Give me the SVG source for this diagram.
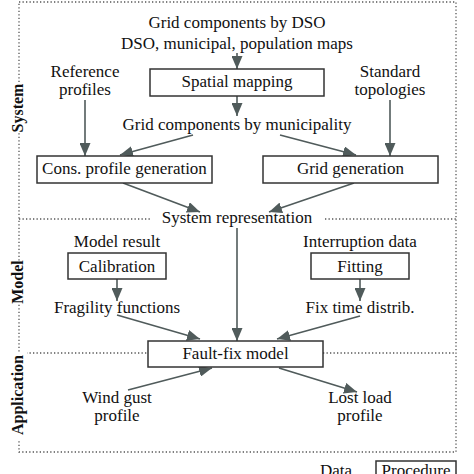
<svg xmlns="http://www.w3.org/2000/svg" width="474" height="474" viewBox="0 0 474 474">
<style>
text{font-family:"Liberation Serif","Times New Roman",serif;font-size:17px;fill:#111;text-anchor:middle}
.side{font-weight:bold;font-size:16px}
.box{fill:#fff;stroke:#333;stroke-width:1.5}
.dot{fill:none;stroke:#555;stroke-width:1.3;stroke-dasharray:1.3 2.2}
.conn line{stroke:#505b5b;stroke-width:1.6;marker-end:url(#ah)}
</style>
<defs>
<marker id="ah" viewBox="0 0 13 11" refX="13" refY="5.5" markerWidth="13" markerHeight="11" markerUnits="userSpaceOnUse" orient="auto">
<path d="M0,0 L13,5.5 L0,11 z" fill="#505b5b"/>
</marker>
</defs>
<rect width="474" height="474" fill="#fff"/>
<g id="frame">
<rect class="dot" x="19" y="2" width="437" height="450"/>
<line class="dot" x1="19" y1="219" x2="150" y2="219"/>
<line class="dot" x1="325" y1="219" x2="456" y2="219"/>
<line class="dot" x1="19" y1="353" x2="148" y2="353"/>
<line class="dot" x1="323" y1="353" x2="456" y2="353"/>
</g>
<g id="side-labels">
<rect x="11" y="83" width="16" height="50" fill="#fff"/>
<text class="side" transform="translate(23,108) rotate(-90)">System</text>
<rect x="11" y="261" width="16" height="42" fill="#fff"/>
<text class="side" transform="translate(23,282) rotate(-90)">Model</text>
<rect x="11" y="352" width="16" height="87" fill="#fff"/>
<text class="side" transform="translate(23,395) rotate(-90)">Application</text>
</g>
<g class="conn" id="connectors">
<line x1="237" y1="53" x2="237" y2="69"/>
<line x1="237" y1="96" x2="237" y2="116"/>
<line x1="85" y1="100" x2="85" y2="156"/>
<line x1="193" y1="135" x2="120" y2="155"/>
<line x1="390" y1="100" x2="390" y2="156"/>
<line x1="280" y1="135" x2="356" y2="155"/>
<line x1="123" y1="183" x2="200" y2="212"/>
<line x1="354" y1="183" x2="269" y2="212"/>
<line x1="237" y1="228" x2="237" y2="341"/>
<line x1="117" y1="279" x2="117" y2="301"/>
<line x1="360" y1="279" x2="360" y2="301"/>
<line x1="117" y1="315" x2="200" y2="339"/>
<line x1="360" y1="316" x2="277" y2="339"/>
<line x1="128" y1="390" x2="212" y2="368"/>
<line x1="279" y1="368" x2="357" y2="392"/>
</g>
<g id="grid-dso"><text x="237" y="28">Grid components by DSO</text></g>
<g id="maps"><text x="237" y="49">DSO, municipal, population maps</text></g>
<g id="spatial-mapping"><rect class="box" x="150" y="69" width="174" height="27"/><text x="237" y="87">Spatial mapping</text></g>
<g id="reference-profiles"><text x="85" y="77">Reference</text><text x="85" y="95">profiles</text></g>
<g id="standard-topologies"><text x="390" y="77">Standard</text><text x="390" y="95">topologies</text></g>
<g id="grid-municipality"><text x="237" y="130">Grid components by municipality</text></g>
<g id="cons-profile"><rect class="box" x="37" y="156" width="175" height="27"/><text x="124.5" y="174">Cons. profile generation</text></g>
<g id="grid-generation"><rect class="box" x="263" y="156" width="175" height="27"/><text x="350.5" y="174">Grid generation</text></g>
<g id="system-representation"><text x="237" y="223">System representation</text></g>
<g id="model-result"><text x="117" y="247">Model result</text></g>
<g id="calibration"><rect class="box" x="68" y="253" width="98" height="26"/><text x="117" y="272">Calibration</text></g>
<g id="fragility"><text x="117" y="313">Fragility functions</text></g>
<g id="interruption-data"><text x="360" y="247">Interruption data</text></g>
<g id="fitting"><rect class="box" x="311" y="253" width="98" height="26"/><text x="360" y="272">Fitting</text></g>
<g id="fix-time"><text x="360" y="313">Fix time distrib.</text></g>
<g id="fault-fix"><rect class="box" x="148" y="341" width="175" height="26"/><text x="235.5" y="359">Fault-fix model</text></g>
<g id="wind-gust"><text x="117" y="403">Wind gust</text><text x="117" y="421">profile</text></g>
<g id="lost-load"><text x="360" y="403">Lost load</text><text x="360" y="421">profile</text></g>
<g id="legend">
<text x="336" y="476">Data</text>
<rect class="box" x="376" y="461" width="80" height="20"/>
<text x="416" y="476">Procedure</text>
</g>
</svg>
